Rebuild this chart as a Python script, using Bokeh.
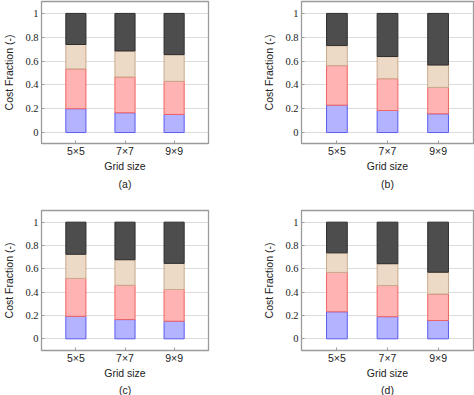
from bokeh.plotting import figure
from bokeh.models import Range1d, FactorRange, FixedTicker, Title, ColumnDataSource
from bokeh.layouts import column, row
from bokeh.embed import file_html
from bokeh.resources import INLINE

grid_sizes = ["5×5", "7×7", "9×9"]
y_ticks = [0, 0.2, 0.4, 0.6, 0.8, 1]
y_tick_labels = ["0", "0.2", "0.4", "0.6", "0.8", "1"]

# cost components per panel (bottom -> top)
a_blue = [0.200, 0.166, 0.152]
a_red = [0.334, 0.300, 0.278]
a_beige = [0.205, 0.219, 0.224]
a_dark = [0.261, 0.315, 0.346]

b_blue = [0.230, 0.185, 0.157]
b_red = [0.332, 0.267, 0.222]
b_beige = [0.168, 0.186, 0.188]
b_dark = [0.270, 0.362, 0.433]

c_blue = [0.193, 0.165, 0.151]
c_red = [0.325, 0.294, 0.272]
c_beige = [0.207, 0.219, 0.224]
c_dark = [0.275, 0.322, 0.353]

d_blue = [0.232, 0.190, 0.157]
d_red = [0.337, 0.267, 0.227]
d_beige = [0.168, 0.187, 0.187]
d_dark = [0.263, 0.356, 0.429]

fills = ["#b3b3ff", "#ffb3b3", "#ecdac7", "#4d4d4d"]
lines = ["#5c5cf0", "#f06464", "#c9aa8c", "#2e2e2e"]

SANS = "Liberation Sans"
SERIF = "Liberation Serif"


def make_panel(tag, comps, w, h, bl, br, bt, bb, ylo, yhi, tag_standoff):
    p = figure(width=w, height=h,
               x_range=FactorRange(*grid_sizes, range_padding=0.2, range_padding_units="absolute"),
               y_range=Range1d(ylo, yhi),
               output_backend="svg", toolbar_location=None,
               min_border_left=bl, min_border_right=br,
               min_border_top=bt, min_border_bottom=bb)
    src = ColumnDataSource(dict(size=grid_sizes, c1=comps[0], c2=comps[1], c3=comps[2], c4=comps[3]))
    p.vbar_stack(["c1", "c2", "c3", "c4"], x="size", width=0.41, source=src,
                 fill_color=fills, line_color=lines, line_width=1)
    p.outline_line_color = "#9a9a9a"
    p.outline_line_width = 1.3
    p.xgrid.grid_line_color = None
    p.ygrid.grid_line_color = "#dcdcdc"
    p.ygrid.grid_line_width = 1
    p.background_fill_color = "white"
    p.border_fill_color = "white"

    p.yaxis.ticker = FixedTicker(ticks=y_ticks)
    p.yaxis.major_label_overrides = dict(zip(y_ticks, y_tick_labels))
    p.yaxis.axis_label = "Cost Fraction (-)"
    p.yaxis.axis_label_text_font = SANS
    p.yaxis.axis_label_text_font_style = "normal"
    p.yaxis.axis_label_text_font_size = "10.5px"
    p.yaxis.axis_label_text_color = "#222222"
    p.yaxis.axis_label_standoff = 7
    p.yaxis.major_label_text_font = SERIF
    p.yaxis.major_label_text_font_size = "10.5px"
    p.yaxis.major_label_text_color = "#222222"
    p.yaxis.major_label_standoff = 3
    p.yaxis.axis_line_color = None
    p.yaxis.major_tick_line_color = "#9a9a9a"
    p.yaxis.major_tick_in = 3
    p.yaxis.major_tick_out = 0
    p.yaxis.minor_tick_line_color = None

    p.xaxis.axis_label = "Grid size"
    p.xaxis.axis_label_text_font = SANS
    p.xaxis.axis_label_text_font_style = "normal"
    p.xaxis.axis_label_text_font_size = "10.5px"
    p.xaxis.axis_label_text_color = "#222222"
    p.xaxis.axis_label_standoff = 0
    p.xaxis.major_label_text_font = SANS
    p.xaxis.major_label_text_font_size = "10.5px"
    p.xaxis.major_label_text_color = "#222222"
    p.xaxis.major_label_standoff = 1
    p.xaxis.axis_line_color = None
    p.xaxis.major_tick_line_color = "#9a9a9a"
    p.xaxis.major_tick_in = 3
    p.xaxis.major_tick_out = 0

    p.add_layout(Title(text=tag, align="center", text_font=SANS, text_font_style="normal",
                       text_font_size="10.5px", text_color="#222222", standoff=tag_standoff), "below")
    return p


pa = make_panel("(a)", [a_blue, a_red, a_beige, a_dark], 240, 200, 36, 32, 1, 57, -0.092, 1.1, 2)
pb = make_panel("(b)", [b_blue, b_red, b_beige, b_dark], 234, 200, 61, 1, 1, 57, -0.092, 1.1, 2)
pc = make_panel("(c)", [c_blue, c_red, c_beige, c_dark], 240, 195, 36, 32, 10, 42, -0.1, 1.1, 0)
pd = make_panel("(d)", [d_blue, d_red, d_beige, d_dark], 234, 195, 61, 1, 10, 42, -0.1, 1.1, 0)

layout = column(row(pa, pb), row(pc, pd))
open("out.html", "w").write(file_html(layout, INLINE))
